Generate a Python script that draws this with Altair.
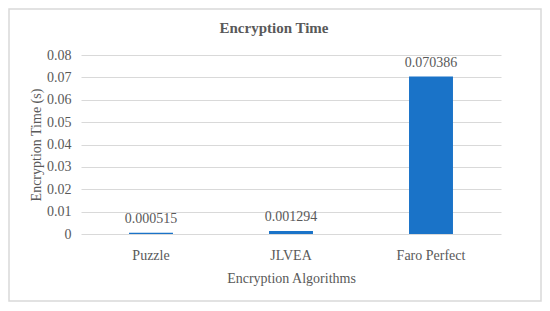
import altair as alt
import pandas as pd

algorithms = ["Puzzle", "JLVEA", "Faro Perfect"]
times = [0.000515, 0.001294, 0.070386]
labels = ["0.000515", "0.001294", "0.070386"]
y_ticks = [0, 0.01, 0.02, 0.03, 0.04, 0.05, 0.06, 0.07, 0.08]
chart_title = "Encryption Time"

df = pd.DataFrame({"alg": algorithms, "t": times, "lab": labels})
title_df = pd.DataFrame({"title": [chart_title]})

FONT = "Liberation Serif"
GREY = "#595959"
BLUE = "#1a73c8"

x_enc = alt.X("alg:N", sort=algorithms, title="Encryption Algorithms",
              scale=alt.Scale(paddingInner=0.686, paddingOuter=0.343),
              axis=alt.Axis(labelAngle=0, domain=False, ticks=False, labelPadding=14,
                            titlePadding=9))
y_enc = alt.Y("t:Q", title="Encryption Time (s)",
              scale=alt.Scale(domain=[0, 0.08]),
              axis=alt.Axis(values=y_ticks, format="~g", domain=False, ticks=False,
                            gridColor="#d9d9d9", labelPadding=10, titlePadding=3))

bars = alt.Chart(df).mark_bar(color=BLUE).encode(x=x_enc, y=y_enc)
text = alt.Chart(df).mark_text(font=FONT, fontSize=14, color=GREY, baseline="bottom", dy=-7).encode(
    x=x_enc, y=y_enc, text="lab:N")

border = alt.Chart(title_df).mark_rect(fill="transparent", stroke="#d9d9d9", strokeWidth=1.5).encode(
    x=alt.value(-72), x2=alt.value(460), y=alt.value(-46), y2=alt.value(246))

title = alt.Chart(title_df).mark_text(font=FONT, fontSize=15, fontWeight="bold", color=GREY,
                                      baseline="middle", align="center").encode(
    x=alt.value(193), y=alt.value(-27), text="title:N")

chart = alt.layer(border, bars, text, title).properties(
    width=420, height=179,
    autosize=alt.AutoSizeParams(type="none"),
    padding={"left": 73, "top": 47, "right": 41, "bottom": 69},
).configure_view(stroke=None).configure_axis(
    labelFont=FONT, titleFont=FONT, labelFontSize=14, titleFontSize=14,
    labelColor=GREY, titleColor=GREY, titleFontWeight="normal"
)

chart.save("out.html", embed_options={"renderer": "svg", "actions": False})
